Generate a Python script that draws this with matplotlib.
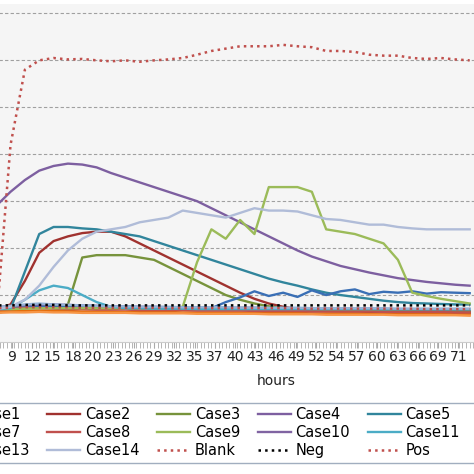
import matplotlib
matplotlib.use("Agg")
import matplotlib.pyplot as plt
from matplotlib.ticker import MultipleLocator

hours = list(range(7, 75, 2))  # 7 .. 73

tick_pos = [9.2 + i * (71.4 - 9.2) / 22 for i in range(23)]
tick_labels = ["9", "12", "15", "18", "20", "23", "26", "29", "32", "35", "37", "40",
               "43", "46", "49", "52", "54", "57", "60", "63", "66", "69", "71"]

case1 = [0.7, 0.72, 0.75, 0.78, 0.76, 0.75, 0.74, 0.73, 0.72, 0.72, 0.71, 0.71, 0.7, 0.7, 0.7, 0.7, 0.7,
         0.7, 0.69, 0.69, 0.69, 0.69, 0.68, 0.68, 0.68, 0.68, 0.68, 0.67, 0.67, 0.67, 0.67, 0.67, 0.66, 0.66]
case2 = [0.7, 0.8, 1.3, 1.9, 2.15, 2.25, 2.32, 2.35, 2.35, 2.25, 2.1, 1.95, 1.8, 1.65, 1.5, 1.35, 1.2,
         1.05, 0.92, 0.82, 0.75, 0.7, 0.68, 0.66, 0.65, 0.65, 0.64, 0.64, 0.63, 0.63, 0.63, 0.62, 0.62, 0.62]
case3 = [0.7, 0.7, 0.72, 0.74, 0.75, 0.8, 1.8, 1.85, 1.85, 1.85, 1.8, 1.75, 1.6, 1.45, 1.3, 1.15, 1.0,
         0.9, 0.82, 0.76, 0.72, 0.7, 0.69, 0.68, 0.68, 0.67, 0.67, 0.66, 0.66, 0.66, 0.65, 0.65, 0.65, 0.65]
case4 = [2.9, 3.2, 3.45, 3.65, 3.75, 3.8, 3.78, 3.72, 3.6, 3.5, 3.4, 3.3, 3.2, 3.1, 3.0, 2.85, 2.7,
         2.55, 2.4, 2.25, 2.1, 1.95, 1.82, 1.72, 1.62, 1.55, 1.48, 1.42, 1.36, 1.32, 1.28, 1.25, 1.22, 1.2]
case5 = [0.6, 0.7, 1.5, 2.3, 2.45, 2.45, 2.42, 2.4, 2.35, 2.3, 2.25, 2.15, 2.05, 1.95, 1.85, 1.75, 1.65,
         1.55, 1.45, 1.35, 1.27, 1.2, 1.12, 1.05, 1.0, 0.96, 0.92, 0.88, 0.85, 0.83, 0.82, 0.81, 0.8, 0.8]
case6 = [0.65, 0.66, 0.66, 0.67, 0.66, 0.66, 0.65, 0.65, 0.65, 0.64, 0.64, 0.64, 0.64, 0.63, 0.63, 0.63, 0.63,
         0.63, 0.62, 0.62, 0.62, 0.62, 0.61, 0.61, 0.61, 0.61, 0.6, 0.6, 0.6, 0.6, 0.6, 0.6, 0.59, 0.59]
case7 = [0.72, 0.73, 0.74, 0.75, 0.74, 0.74, 0.73, 0.73, 0.73, 0.73, 0.72, 0.72, 0.72, 0.72, 0.72, 0.72, 0.85,
         0.95, 1.08, 0.98, 1.05, 0.96, 1.1, 1.0, 1.08, 1.12, 1.02, 1.07, 1.05, 1.08, 1.03, 1.06, 1.05, 1.04]
case8 = [0.68, 0.7, 0.72, 0.72, 0.71, 0.7, 0.7, 0.69, 0.69, 0.69, 0.68, 0.68, 0.68, 0.68, 0.67, 0.67, 0.67,
         0.67, 0.66, 0.66, 0.66, 0.66, 0.65, 0.65, 0.65, 0.65, 0.65, 0.64, 0.64, 0.64, 0.64, 0.64, 0.63, 0.63]
case9 = [0.7, 0.7, 0.71, 0.72, 0.72, 0.72, 0.72, 0.72, 0.72, 0.72, 0.72, 0.72, 0.72, 0.75, 1.7, 2.4, 2.2,
         2.6, 2.3, 3.3, 3.3, 3.3, 3.2, 2.4, 2.35, 2.3, 2.2, 2.1, 1.75, 1.05, 0.98, 0.92, 0.87, 0.82]
case10 = [0.74, 0.76, 0.78, 0.8, 0.8, 0.79, 0.78, 0.77, 0.76, 0.76, 0.75, 0.75, 0.74, 0.74, 0.74, 0.73, 0.73,
          0.73, 0.73, 0.72, 0.72, 0.72, 0.72, 0.71, 0.71, 0.71, 0.71, 0.7, 0.7, 0.7, 0.7, 0.7, 0.7, 0.7]
case11 = [0.7, 0.72, 0.9, 1.1, 1.2, 1.15, 1.0, 0.85, 0.75, 0.72, 0.72, 0.71, 0.71, 0.71, 0.7, 0.7, 0.7,
          0.7, 0.7, 0.7, 0.7, 0.7, 0.7, 0.7, 0.7, 0.7, 0.7, 0.7, 0.7, 0.7, 0.7, 0.7, 0.7, 0.7]
case12 = [0.62, 0.63, 0.63, 0.64, 0.63, 0.63, 0.62, 0.62, 0.62, 0.62, 0.61, 0.61, 0.61, 0.61, 0.6, 0.6, 0.6,
          0.6, 0.6, 0.59, 0.59, 0.59, 0.59, 0.58, 0.58, 0.58, 0.58, 0.58, 0.57, 0.57, 0.57, 0.57, 0.57, 0.56]
case13 = [0.75, 0.77, 0.8, 0.82, 0.8, 0.79, 0.78, 0.77, 0.76, 0.76, 0.75, 0.75, 0.75, 0.74, 0.74, 0.74, 0.74,
          0.73, 0.73, 0.73, 0.73, 0.73, 0.72, 0.72, 0.72, 0.72, 0.72, 0.72, 0.71, 0.71, 0.71, 0.71, 0.71, 0.71]
case14 = [0.7, 0.75, 0.9, 1.2, 1.6, 1.95, 2.2, 2.35, 2.4, 2.45, 2.55, 2.6, 2.65, 2.8, 2.75, 2.7, 2.65,
          2.75, 2.85, 2.8, 2.8, 2.78, 2.7, 2.62, 2.6, 2.55, 2.5, 2.5, 2.45, 2.42, 2.4, 2.4, 2.4, 2.4]
blank = [0.72, 0.73, 0.74, 0.74, 0.74, 0.74, 0.73, 0.73, 0.73, 0.73, 0.73, 0.73, 0.72, 0.72, 0.72, 0.72, 0.72,
         0.72, 0.72, 0.72, 0.72, 0.71, 0.71, 0.71, 0.71, 0.71, 0.71, 0.71, 0.71, 0.71, 0.7, 0.7, 0.7, 0.7]
neg = [0.78, 0.78, 0.79, 0.79, 0.79, 0.78, 0.78, 0.78, 0.78, 0.78, 0.78, 0.78, 0.78, 0.78, 0.78, 0.78, 0.78,
       0.78, 0.78, 0.78, 0.78, 0.78, 0.78, 0.78, 0.78, 0.78, 0.78, 0.78, 0.78, 0.78, 0.78, 0.78, 0.78, 0.78]
pos = [0.4, 4.2, 5.8, 6.0, 6.05, 6.02, 6.03, 6.0, 5.98, 6.0, 5.97, 6.0, 6.02, 6.05, 6.12, 6.2, 6.25,
       6.3, 6.3, 6.3, 6.33, 6.3, 6.28, 6.2, 6.2, 6.18, 6.12, 6.1, 6.1, 6.05, 6.03, 6.05, 6.02, 6.0]

series = [
    ("Case1", case1, "#4F81BD", "-"), ("Case2", case2, "#A0322F", "-"),
    ("Case3", case3, "#77933C", "-"), ("Case4", case4, "#7D5FA0", "-"),
    ("Case5", case5, "#31859C", "-"), ("Case6", case6, "#E46C0A", "-"),
    ("Case7", case7, "#3A6FB5", "-"), ("Case8", case8, "#C0504D", "-"),
    ("Case9", case9, "#9BBB59", "-"), ("Case10", case10, "#8064A2", "-"),
    ("Case11", case11, "#4BACC6", "-"), ("Case12", case12, "#F79646", "-"),
    ("Case13", case13, "#95B3D7", "-"), ("Case14", case14, "#B0BCD8", "-"),
    ("Blank", blank, "#C0504D", ":"), ("Neg", neg, "#000000", ":"),
    ("Pos", pos, "#C0504D", ":"),
]

fig = plt.figure(figsize=(4.74, 4.74), dpi=100, facecolor="white")
ax = fig.add_axes([-0.114, 0.2785, 1.12, 0.713])
ax.set_facecolor("#f5f5f5")

handles = []
for name, vals, color, ls in series:
    lw = 1.8 if ls == ":" else 1.7
    (h,) = ax.plot(hours, vals, color=color, linestyle=ls, linewidth=lw, label=name)
    handles.append(h)

ax.set_xlim(0, 74)
ax.set_ylim(0, 7.2)
ax.set_yticks(range(1, 8))
ax.tick_params(axis="y", left=False, labelleft=False)
ax.grid(True, axis="y", color="#a0a0a0", linestyle=(0, (3, 2)), linewidth=0.8)
ax.set_xticks(tick_pos)
ax.set_xticklabels(tick_labels, fontsize=10, color="#222222")
ax.xaxis.set_minor_locator(MultipleLocator(0.5))
ax.tick_params(axis="x", which="both", length=4, color="#aaaaaa", pad=2)
for side in ("top", "left", "right"):
    ax.spines[side].set_visible(False)
ax.spines["bottom"].set_color("#cccccc")
fig.text(0.582, 0.196, "hours", ha="center", va="center", fontsize=10, color="#222222")

# legend is row-major in the reference; matplotlib fills by column
ncol = 6
order = []
for c in range(ncol):
    r = 0
    while r * ncol + c < len(handles):
        order.append(r * ncol + c)
        r += 1
leg = fig.legend([handles[i] for i in order], [series[i][0] for i in order],
                 loc="upper center", bbox_to_anchor=(0.535, 0.165), ncol=ncol,
                 fontsize=10.5, handlelength=2.3, handletextpad=0.3, columnspacing=1.2,
                 labelspacing=0.2, frameon=True, fancybox=False, edgecolor="#8a9ab0",
                 borderpad=0.3)

fig.savefig("out.png", dpi=100, facecolor="white")
